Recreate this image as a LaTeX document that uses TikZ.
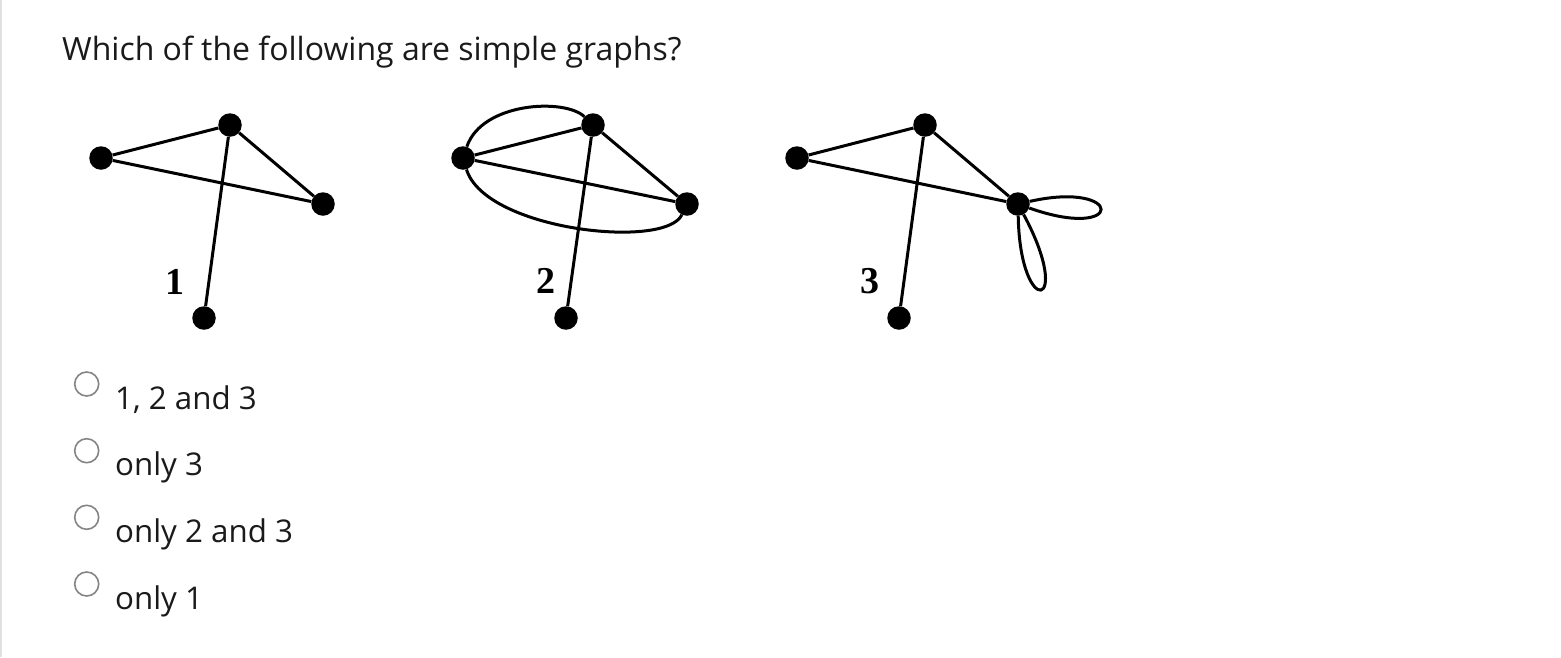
\documentclass[tikz,border=0pt]{standalone}
\usepackage{fontspec}
\setmainfont{Open Sans}
\newfontfamily\labfont{Liberation Serif}
\usetikzlibrary{positioning}

\definecolor{txt}{HTML}{1A1A1A}
\definecolor{radiogray}{HTML}{858585}

\begin{document}
\begin{tikzpicture}[
  x=1pt, y=-1pt,
  dot/.style={circle, fill=black, inner sep=0pt, minimum size=23.5pt},
  edge/.style={line width=3pt, black},
  radio/.style={circle, draw=radiogray, line width=1.6pt, inner sep=0pt, minimum size=24pt},
  opt/.style={anchor=base west, inner sep=0pt, text=txt, font=\fontsize{31.3}{37}\selectfont},
  lab/.style={inner sep=0pt, font=\labfont\bfseries\fontsize{38}{44}\selectfont}
]

% --- cadre
\fill[white] (0,0) rectangle (1561,657);
\useasboundingbox (0,0) rectangle (1561,657);
\draw[black!12, line width=2pt] (1,0) -- (1,657);

% --- question
\node[anchor=base west, inner sep=0pt, text=txt, font=\fontsize{32}{38}\selectfont]
  (title) at (62,60) {Which of the following are simple graphs?};

% --- graphe 1
\node[dot] (l1) at (101,158) {};
\node[dot] (t1) at (230,125) {};
\node[dot] (r1) at (323,204) {};
\node[dot] (b1) at (204,318) {};
\draw[edge] (l1) -- (t1) (l1) -- (r1) (t1) -- (r1) (t1) -- (b1);
\node[lab] (n1) at (175,282) {1};

% --- graphe 2 (aretes multiples)
\node[dot] (l2) at (463,158) {};
\node[dot] (t2) at (593,125) {};
\node[dot] (r2) at (687,204) {};
\node[dot] (b2) at (566,318) {};
\draw[edge] (l2) -- (t2) (l2) -- (r2) (t2) -- (r2) (t2) -- (b2);
\draw[edge] (l2) .. controls (482,102) and (565,98) .. (t2);
\draw[edge] (l2) .. controls (485,230) and (665,250) .. (r2);
\node[lab] (n2) at (546,281) {2};

% --- graphe 3 (boucles)
\node[dot] (l3) at (797,158) {};
\node[dot] (t3) at (925,125) {};
\node[dot] (r3) at (1018,204) {};
\node[dot] (b3) at (899,318) {};
\draw[edge] (l3) -- (t3) (l3) -- (r3) (t3) -- (r3) (t3) -- (b3);
\draw[edge] (r3) .. controls +(107,-24) and +(107,38) .. (r3);
\draw[edge] (r3) .. controls +(2,116) and +(57,106) .. (r3);
\node[lab] (n3) at (870,281) {3};

% --- choix
\node[radio] (c1) at (86.7,384) {};
\node[radio] (c2) at (86.7,450.7) {};
\node[radio] (c3) at (86.7,517.3) {};
\node[radio] (c4) at (86.7,584) {};
\node[opt] (o1) at (115,409) {1, 2 and 3};
\node[opt] (o2) at (115,475.7) {only 3};
\node[opt] (o3) at (115,542.3) {only 2 and 3};
\node[opt] (o4) at (115,609) {only 1};

\end{tikzpicture}
\end{document}
